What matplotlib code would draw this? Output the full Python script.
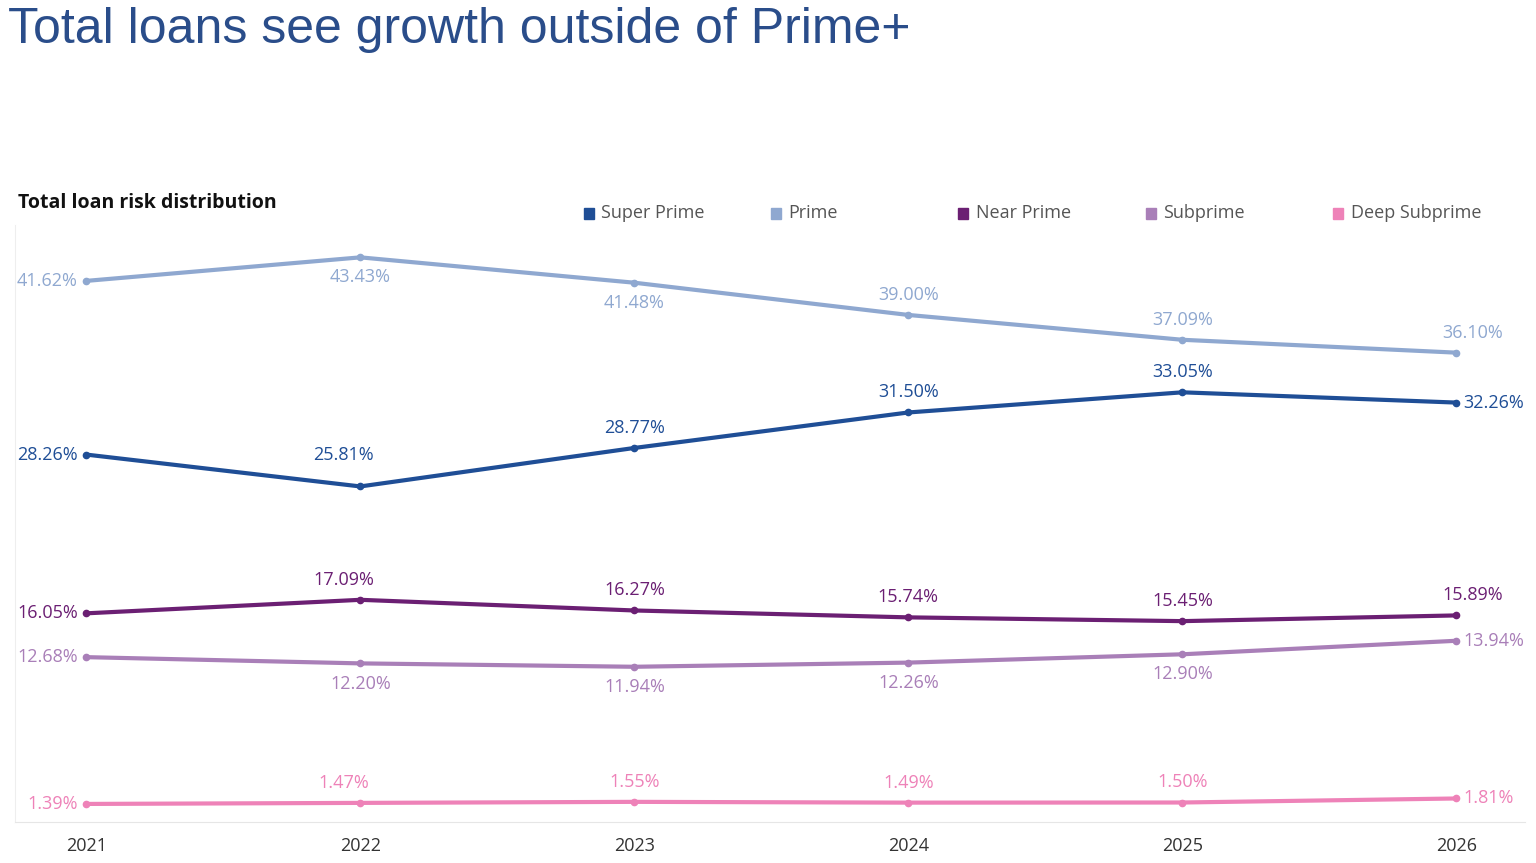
import matplotlib
matplotlib.use("Agg")
import matplotlib.pyplot as plt

years = [2021, 2022, 2023, 2024, 2025, 2026]
series_names = ["Super Prime", "Prime", "Near Prime", "Subprime", "Deep Subprime"]
super_prime = [28.26, 25.81, 28.77, 31.50, 33.05, 32.26]
prime = [41.62, 43.43, 41.48, 39.00, 37.09, 36.10]
near_prime = [16.05, 17.09, 16.27, 15.74, 15.45, 15.89]
subprime = [12.68, 12.20, 11.94, 12.26, 12.90, 13.94]
deep_subprime = [1.39, 1.47, 1.55, 1.49, 1.50, 1.81]

colors = ["#1f4e96", "#8fa8d0", "#6b1f73", "#a97fb8", "#ee82b8"]
data = [super_prime, prime, near_prime, subprime, deep_subprime]
places = [
    ["L", "A", "A", "A", "A", "R"],
    ["L", "B", "B", "A", "A", "AR"],
    ["L", "A", "A", "A", "A", "AR"],
    ["L", "B", "B", "B", "B", "R"],
    ["L", "A", "A", "A", "A", "R"],
]

fig = plt.figure(figsize=(15.36, 8.63), dpi=100)
ax = fig.add_axes([0.0098, 0.0475, 0.983, 0.6915])
ax.set_xlim(2020.74, 2026.25)
ax.set_ylim(0, 45.9)

for i, (vals, c, pl) in enumerate(zip(data, colors, places)):
    ax.plot(years, vals, color=c, lw=3, marker="o", ms=4.5, solid_capstyle="round")
    for x, v, p in zip(years, vals, pl):
        txt = f"{v:.2f}%"
        kw = dict(color=c, fontsize=13, family="Open Sans")
        if p == "L":
            ax.annotate(txt, (x, v), xytext=(-6, 0), textcoords="offset points", ha="right", va="center", **kw)
        elif p == "R":
            ax.annotate(txt, (x, v), xytext=(5, 0), textcoords="offset points", ha="left", va="center", **kw)
        elif p == "A":
            dy = 16 if (i == 0 and x == 2022) else 8
            ax.annotate(txt, (x, v), xytext=(-12 if x == 2022 else 0, dy), textcoords="offset points", ha="center", va="bottom", **kw)
        elif p == "AR":
            ax.annotate(txt, (x, v), xytext=(12, 8), textcoords="offset points", ha="center", va="bottom", **kw)
        else:
            ax.annotate(txt, (x, v), xytext=(0, -8), textcoords="offset points", ha="center", va="top", **kw)

ax.set_xticks(years)
ax.set_xticklabels([str(y) for y in years], fontsize=13, family="Open Sans", color="#333333")
ax.set_yticks([])
ax.tick_params(axis="x", length=0, pad=11)
for s in ["top", "right"]:
    ax.spines[s].set_visible(False)
ax.spines["left"].set_color("#eeeeee")
ax.spines["bottom"].set_color("#e6e6e6")

fig.text(0.005, 0.965, "Total loans see growth outside of Prime+", fontsize=36, color="#2a4d8a",
         family="Liberation Sans", va="center", ha="left")
fig.text(0.012, 0.765, "Total loan risk distribution", fontsize=14, fontweight="bold",
         color="#111111", family="Open Sans", va="center")

leg_x = [0.380, 0.502, 0.624, 0.746, 0.868]
for name, c, lx in zip(series_names, colors, leg_x):
    fig.patches.append(matplotlib.patches.Rectangle((lx, 0.746), 0.0065, 0.0135, color=c, transform=fig.transFigure))
    fig.text(lx + 0.0115, 0.753, name, fontsize=13, color="#555555", family="Open Sans", va="center")

fig.savefig("out.png", dpi=100)
